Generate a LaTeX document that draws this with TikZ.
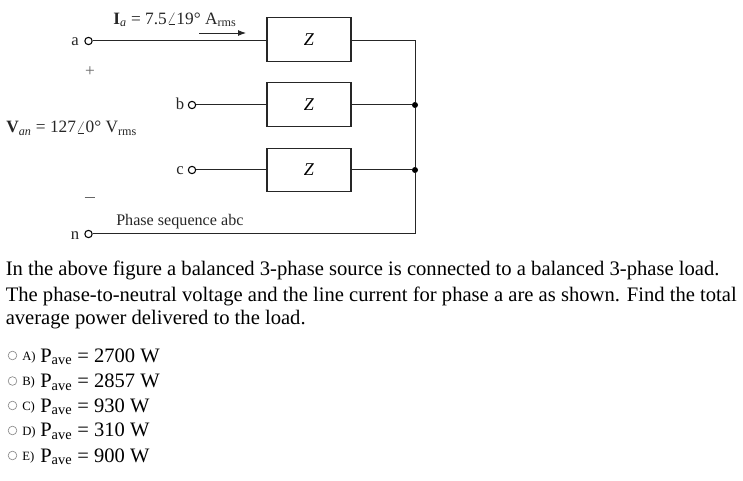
\documentclass[tikz,border=0pt]{standalone}
\usepackage{fontspec}
\setmainfont{Liberation Serif}
\usetikzlibrary{arrows.meta}
\newcommand{\fs}[1]{\fontsize{#1}{#1}\selectfont}
\tikzset{
  x=0.75pt,y=-0.75pt,
  wire/.style={draw=black!85,line width=0.75pt},
  term/.style={circle,draw=black,line width=0.8pt,fill=white,minimum size=5.5pt,inner sep=0pt},
  dotj/.style={circle,fill=black,minimum size=4.5pt,inner sep=0pt},
  load/.style={draw=black!85,line width=0.9pt,minimum width=63pt,minimum height=32.5pt,inner sep=0pt,font=\fs{13.5}\itshape},
  lab/.style={inner sep=0pt,font=\fs{12.5},black!85},
  diag/.style={inner sep=0pt,font=\fs{13},black!85,anchor=base west},
  body/.style={inner sep=0pt,anchor=base west,font=\fs{15.46}},
  radio/.style={circle,draw=black!45,line width=0.5pt,minimum size=6.5pt,inner sep=0pt},
  opt/.style={inner sep=0pt,anchor=base west,font=\fs{15.4}},
  optl/.style={inner sep=0pt,anchor=base west,font=\fs{9.5}},
}
\begin{document}
\begin{tikzpicture}
\useasboundingbox (0,0) rectangle (743,481);
\node[term] (a) at (88.5,41) {};
\node[term] (b) at (192,105) {};
\node[term] (c) at (192,170) {};
\node[term] (n) at (88.5,234) {};
\node[load] (za) at (309,39.5) {Z};
\node[load] (zb) at (309,104.5) {Z};
\node[load] (zc) at (309,170) {Z};
\coordinate (tr) at (415,41);
\coordinate (br) at (415,234);
\node[dotj] (jb) at (415,105) {};
\node[dotj] (jc) at (415,170) {};
\draw[wire] (a) -- (a-|za.west);
\draw[wire] (b) -- (b-|zb.west);
\draw[wire] (c) -- (c-|zc.west);
\draw[wire] (tr-|za.east) -- (tr) -- (jb) -- (jc) -- (br) -- (n);
\draw[wire] (jb-|zb.east) -- (jb);
\draw[wire] (jc-|zc.east) -- (jc);
\node[lab,anchor=base] (la) at (75,46) {a};
\node[lab,anchor=base] (lb) at (180,110) {b};
\node[lab,anchor=base] (lc) at (180,175) {c};
\node[lab,anchor=base] (ln) at (75,240) {n};
\node[lab,black!60,font=\fs{13}] (plus) at (90,72) {+};
\node[lab,black!60] (minus) at (90,197.5) {\rule{8pt}{0.5pt}};
\node[diag] (ia) at (113,24.5) {\textbf{I}\textsubscript{\textit{a}} = 7.5$\angle$19° A\textsubscript{rms}};
\coordinate (ias) at (199,33);
\coordinate (iae) at (246,33);
\draw[-{Latex[length=6pt,width=4.5pt]},black!85,line width=0.7pt] (ias) -- (iae);
\node[diag] (van) at (6,133) {\textbf{V}\textsubscript{\textit{an}} = 127$\angle$0° V\textsubscript{rms}};
\node[diag,font=\fs{12.1}] (ps) at (116,226) {Phase sequence abc};
\node[body] (t1) at (5.5,276) {In the above figure a balanced 3-phase source is connected to a balanced 3-phase load.};
\node[body] (t2) at (5.5,301) {The phase-to-neutral voltage and the line current for phase a are as shown. Find the total};
\node[body] (t3) at (5.5,324.5) {average power delivered to the load.};
\node[radio] (r1) at (12.5,355.5) {};
\node[radio] (r2) at (12.5,381) {};
\node[radio] (r3) at (12.5,405.5) {};
\node[radio] (r4) at (12.5,430.5) {};
\node[radio] (r5) at (12.5,455.5) {};
\node[optl] (l1) at (22,360) {A)};
\node[optl] (l2) at (22,385) {B)};
\node[optl] (l3) at (22,410) {C)};
\node[optl] (l4) at (22,435) {D)};
\node[optl] (l5) at (22,460) {E)};
\node[opt] (o1) at (40,362) {P\textsubscript{ave} = 2700 W};
\node[opt] (o2) at (40,387.5) {P\textsubscript{ave} = 2857 W};
\node[opt] (o3) at (40,412) {P\textsubscript{ave} = 930 W};
\node[opt] (o4) at (40,436.5) {P\textsubscript{ave} = 310 W};
\node[opt] (o5) at (40,462) {P\textsubscript{ave} = 900 W};
\end{tikzpicture}
\end{document}
